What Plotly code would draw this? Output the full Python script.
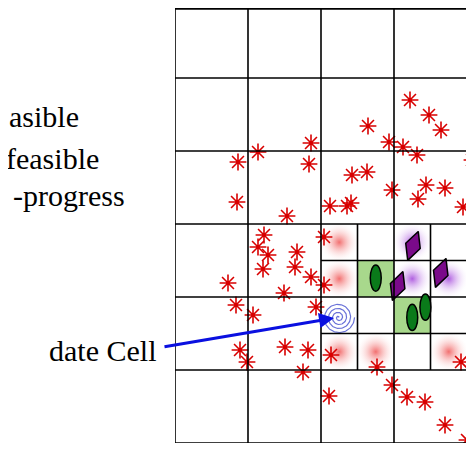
import numpy as np
import plotly.graph_objects as go

# readings, in pixels of the 474x474 image
star_px_x = [410, 429, 441, 368, 389, 403, 417, 472, 311, 309, 258, 238, 352, 367, 392, 426, 445, 418, 463,
             237, 287, 330, 347, 351, 264, 258, 268, 263, 297, 295, 311, 324, 324, 284, 316, 253, 285, 308,
             247, 303, 331, 377, 461, 240, 228, 236, 329, 392, 407, 425, 445, 467]
star_px_y = [100, 115, 130, 126, 142, 147, 155, 160, 143, 164, 152, 162, 175, 172, 190, 185, 188, 199, 207,
             202, 216, 206, 206, 203, 235, 247, 255, 269, 252, 267, 277, 237, 285, 293, 307, 315, 347, 350,
             362, 372, 355, 367, 362, 350, 283, 305, 396, 385, 397, 402, 425, 440]

red_blob_x = [2.25, 2.25, 2.25, 2.75, 3.75]
red_blob_y = [2.75, 2.25, 1.25, 1.25, 1.25]
purple_blob_x = [3.25, 3.25, 3.75]
purple_blob_y = [2.75, 2.25, 2.25]
green_cell_x0 = [2.5, 3.0]
green_cell_y0 = [2.0, 1.5]
ellipse_x = [2.75, 3.25, 3.43]
ellipse_y = [2.26, 1.72, 1.86]
diamond_x = [3.26, 3.05, 3.64]
diamond_y = [2.7, 2.15, 2.33]
spiral_center = (2.24, 1.72)

labels = ["asible", "feasible", "-progress", "date Cell"]
label_right_px = [81, 101, 127, 158]
label_y_px = [117, 158, 195, 350]

# page has an 8px body margin, so the figure is laid out in shifted coordinates
ML, MB, W, H = 167, 39, 474, 474
PW, PH = W - ML, H - MB


def px2x(p):
    return (np.asarray(p, float) - 175) / 73


def px2y(p):
    return (443 - np.asarray(p, float)) / 73


def paper_x(p):
    return (p - 8 - ML) / PW


def paper_y(p):
    return (PH - (p - 8)) / PH


fig = go.Figure()

shapes = []
for x0, y0 in zip(green_cell_x0, green_cell_y0):
    shapes.append(dict(type="rect", x0=x0, x1=x0 + 0.5, y0=y0, y1=y0 + 0.5, fillcolor="#a8d88c",
                       line_width=0, layer="below"))
line = dict(color="black", width=1.6)
for v in range(5):
    shapes.append(dict(type="line", x0=v, x1=v, y0=0, y1=6, line=line))
for h in range(7):
    yy = min(h, PH / 73 - 0.012)
    shapes.append(dict(type="line", x0=0, x1=4.3, y0=yy, y1=yy, line=line))
for v in [2.5, 3.5]:
    shapes.append(dict(type="line", x0=v, x1=v, y0=1, y1=3, line=line))
for h in [1.5, 2.5]:
    shapes.append(dict(type="line", x0=2, x1=4, y0=h, y1=h, line=line))
for ex, ey in zip(ellipse_x, ellipse_y):
    shapes.append(dict(type="circle", x0=ex - 0.075, x1=ex + 0.075, y0=ey - 0.18, y1=ey + 0.18,
                       fillcolor="#0a7a1a", line=dict(color="black", width=1.5)))

fig.add_trace(go.Scatter(x=red_blob_x, y=red_blob_y, mode="markers", hoverinfo="skip",
                         marker=dict(size=40, color="rgba(255,255,255,0)", line_width=0,
                                     gradient=dict(type="radial", color="#f27070"))))
fig.add_trace(go.Scatter(x=purple_blob_x, y=purple_blob_y, mode="markers", hoverinfo="skip",
                         marker=dict(size=40, color="rgba(255,255,255,0)", line_width=0,
                                     gradient=dict(type="radial", color="#b060e0"))))

t = np.linspace(0, 8 * np.pi, 400)
r = 0.22 * t / t[-1]
fig.add_trace(go.Scatter(x=spiral_center[0] + r * np.cos(t), y=spiral_center[1] + r * np.sin(t),
                         mode="lines", line=dict(color="#6a72d8", width=1.2), hoverinfo="skip"))

fig.add_trace(go.Scatter(x=diamond_x, y=diamond_y, mode="markers", hoverinfo="skip",
                         marker=dict(symbol="diamond-tall", size=22, angle=20, color="#7a0a8a",
                                     line=dict(color="black", width=1.5))))
fig.add_trace(go.Scatter(x=px2x(star_px_x), y=px2y(star_px_y), mode="markers", hoverinfo="skip",
                         marker=dict(symbol="asterisk-open", size=14, color="#d80000",
                                     line=dict(color="#d80000", width=1.6))))

annotations = []
for txt, rx, ly in zip(labels, label_right_px, label_y_px):
    annotations.append(dict(x=paper_x(rx), y=paper_y(ly), xref="paper", yref="paper", text=txt,
                            showarrow=False, xanchor="right", yanchor="middle",
                            font=dict(family="Liberation Serif", size=30, color="black")))
annotations.append(dict(x=paper_x(334), y=paper_y(318), ax=163 - 334, ay=347 - 318,
                        xref="paper", yref="paper", text="",
                        showarrow=True, arrowhead=2, arrowsize=1, arrowwidth=3, arrowcolor="#0a10e0"))

fig.update_layout(width=W, height=H, margin=dict(l=ML, r=0, t=0, b=MB),
                  plot_bgcolor="white", paper_bgcolor="white", showlegend=False,
                  shapes=shapes, annotations=annotations)
fig.update_xaxes(range=[0, PW / 73], visible=False)
fig.update_yaxes(range=[0, PH / 73], visible=False)
fig.write_html("out.html")
